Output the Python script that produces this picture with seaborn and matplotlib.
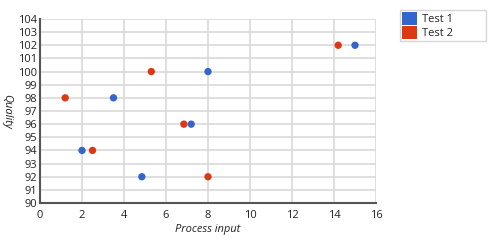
import matplotlib
matplotlib.use("Agg")
import matplotlib.pyplot as plt
import seaborn as sns
import pandas as pd
from matplotlib.patches import Patch

test1_x = [2.0, 3.5, 4.85, 7.2, 8.0, 15.0]
test1_y = [94, 98, 92, 96, 100, 102]
test2_x = [1.2, 2.5, 5.3, 6.85, 8.0, 14.2]
test2_y = [98, 94, 100, 96, 92, 102]
series_names = ["Test 1", "Test 2"]
colors = ["#3366CC", "#DC3912"]

df = pd.DataFrame({
    "x": test1_x + test2_x,
    "y": test1_y + test2_y,
    "series": [series_names[0]] * len(test1_x) + [series_names[1]] * len(test2_x),
})

sns.set_style("white")
plt.rcParams["font.family"] = ["Open Sans", "DejaVu Sans"]

fig = plt.figure(figsize=(5, 2.4), dpi=100)
ax = fig.add_axes([0.08, 0.154, 0.672, 0.767])

sns.scatterplot(data=df, x="x", y="y", hue="series", palette=colors,
                s=28, edgecolor="none", ax=ax, legend=False, zorder=3)

ax.set_xlim(0, 16)
ax.set_ylim(90, 104)
ax.set_xticks(range(0, 17, 2))
ax.set_yticks(range(90, 105))
ax.grid(True, color="#d9d9d9", linewidth=1.2, zorder=0)
ax.set_axisbelow(True)
for s in ["top", "right"]:
    ax.spines[s].set_visible(False)
for s in ["left", "bottom"]:
    ax.spines[s].set_color("#555555")
    ax.spines[s].set_linewidth(1.5)
ax.tick_params(axis="both", length=0, labelsize=8, colors="#222222")
ax.tick_params(axis="x", pad=5)
ax.tick_params(axis="y", pad=2)
ax.set_xlabel("Process input", fontsize=8, style="italic", color="#222222", labelpad=2.5)
ax.set_ylabel("Quality", fontsize=8, style="italic", color="#222222", rotation=-90, labelpad=12)

handles = [Patch(facecolor=c, edgecolor="none", label=n) for c, n in zip(colors, series_names)]
leg = fig.legend(handles=handles, loc="upper left",
                 bbox_to_anchor=(400 / 500, 1 - 40 / 240, 86 / 500, 30 / 240),
                 mode="expand", fontsize=8, frameon=True, fancybox=False,
                 handlelength=1.4, handleheight=1.4, handletextpad=0.45,
                 borderpad=0.15, labelspacing=0.1, borderaxespad=0)
leg.get_frame().set_edgecolor("#cccccc")
leg.get_frame().set_linewidth(1)

fig.savefig("out.png", dpi=100)
